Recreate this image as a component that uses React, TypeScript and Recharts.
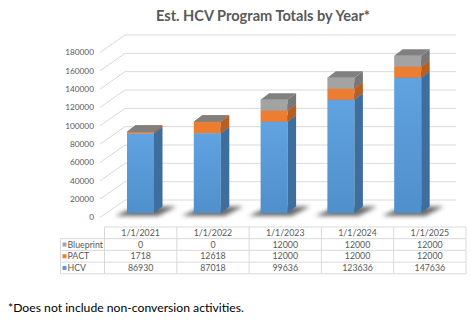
import React from 'react';
import { BarChart, Bar, XAxis, YAxis, CartesianGrid } from 'recharts';

const categories = ['1/1/2021', '1/1/2022', '1/1/2023', '1/1/2024', '1/1/2025'];
const hcvValues = [86930, 87018, 99636, 123636, 147636];
const pactValues = [1718, 12618, 12000, 12000, 12000];
const blueprintValues = [0, 0, 12000, 12000, 12000];
const yTicks = [0, 20000, 40000, 60000, 80000, 100000, 120000, 140000, 160000, 180000];

const seriesInfo = [
  { key: 'Blueprint', values: blueprintValues, color: '#A5A5A5' },
  { key: 'PACT', values: pactValues, color: '#ED7D31' },
  { key: 'HCV', values: hcvValues, color: '#5B9BD5' },
];

const data = categories.map((c, i) => ({
  cat: c,
  HCV: hcvValues[i],
  PACT: pactValues[i],
  Blueprint: blueprintValues[i],
}));

const DX = 8.5;
const DY = 6.5;
const FONT = 'Lato, "Liberation Sans", sans-serif';

const faceColors: Record<string, { front: string; side: string; top: string }> = {
  HCV: { front: 'url(#blueFront)', side: '#3D6E9E', top: '#4A7FB3' },
  PACT: { front: '#ED7D31', side: '#B85E20', top: '#C8691F' },
  Blueprint: { front: '#A3A3A3', side: '#777777', top: '#808080' },
};

function make3DShape(name: string, withShadow: boolean) {
  return (props: any) => {
    const { x, y, width, height, index } = props;
    if (x == null || y == null) return <g />;
    const h = Math.max(0, height || 0);
    const c = faceColors[name];
    const bottom = y + h;
    return (
      <g>
        {withShadow && (
          <g>
            <defs>
              <filter id={`blur${index}`} x="-50%" y="-50%" width="200%" height="200%">
                <feGaussianBlur stdDeviation="2.2" />
              </filter>
            </defs>
            <polygon
              points={`${x - 12},${bottom + 3} ${x + width + 4},${bottom + 3} ${x + width + DX + 14},${bottom - DY} ${x + DX},${bottom - DY}`}
              fill="#3a3a3a"
              opacity={0.75}
              filter={`url(#blur${index})`}
            />
          </g>
        )}
        <rect x={x} y={y} width={width} height={h} fill={c.front} />
        <polygon
          points={`${x + width},${y} ${x + width + DX},${y - DY} ${x + width + DX},${bottom - DY} ${x + width},${bottom}`}
          fill={c.side}
        />
        <polygon
          points={`${x},${y} ${x + DX},${y - DY} ${x + width + DX},${y - DY} ${x + width},${y}`}
          fill={c.top}
        />
      </g>
    );
  };
}

const gridLine = (props: any) => {
  const { x1, x2, y1, key } = props;
  return (
    <polyline
      key={key}
      points={`${x1 - 7},${y1 + 4.5} ${x1 + 18},${y1 - 13} ${x2 + 15},${y1 - 13}`}
      fill="none"
      stroke="#D9D9D9"
      strokeWidth={1}
    />
  );
};

const YTick = (props: any) => {
  const { x, y, payload } = props;
  return (
    <text x={x - 13} y={y + 4.5} dy="0.35em" textAnchor="end" fontSize={8.3} fill="#595959" fontFamily={FONT}>
      {payload.value}
    </text>
  );
};

const TABLE_LEFT = 60.5;
const LEGEND_RIGHT = 104.5;
const COL_W = 72.3;
const TABLE_TOP = 227;
const ROW_H = 11.7;

function DataTable() {
  const right = LEGEND_RIGHT + COL_W * categories.length;
  const bottom = TABLE_TOP + ROW_H * 4;
  const lines: React.ReactNode[] = [];
  lines.push(<line key="h0" x1={LEGEND_RIGHT} x2={right} y1={TABLE_TOP} y2={TABLE_TOP} />);
  for (let k = 1; k <= 4; k++) {
    const yy = TABLE_TOP + ROW_H * k;
    lines.push(<line key={`h${k}`} x1={TABLE_LEFT} x2={right} y1={yy} y2={yy} />);
  }
  lines.push(<line key="v0" x1={TABLE_LEFT} x2={TABLE_LEFT} y1={TABLE_TOP + ROW_H} y2={bottom} />);
  for (let j = 0; j <= categories.length; j++) {
    const xx = LEGEND_RIGHT + COL_W * j;
    lines.push(<line key={`v${j + 1}`} x1={xx} x2={xx} y1={TABLE_TOP} y2={bottom} />);
  }
  return (
    <g fontFamily={FONT} fontSize={8.8} fill="#595959">
      <g stroke="#D9D9D9" strokeWidth={1}>{lines}</g>
      {categories.map((c, j) => (
        <text key={c} x={LEGEND_RIGHT + COL_W * (j + 0.5)} y={TABLE_TOP + ROW_H / 2} dy="0.35em" textAnchor="middle">
          {c}
        </text>
      ))}
      {seriesInfo.map((s, r) => {
        const cy = TABLE_TOP + ROW_H * (r + 1.5);
        return (
          <g key={s.key}>
            <rect x={TABLE_LEFT + 2} y={cy - 2} width={4} height={4} fill={s.color} />
            <text x={TABLE_LEFT + 7} y={cy} dy="0.35em">{s.key}</text>
            {s.values.map((v, j) => (
              <text key={j} x={LEGEND_RIGHT + COL_W * (j + 0.5)} y={cy} dy="0.35em" textAnchor="middle">
                {v}
              </text>
            ))}
          </g>
        );
      })}
    </g>
  );
}

export default function App() {
  return (
    <div style={{ position: 'absolute', left: 0, top: 0, width: 474, height: 323, background: '#fff' }}>
      <svg width={0} height={0} style={{ position: 'absolute' }}>
        <defs>
          <linearGradient id="blueFront" x1="0" y1="0" x2="0" y2="1">
            <stop offset="0%" stopColor="#60A3E0" />
            <stop offset="100%" stopColor="#4F8FCC" />
          </linearGradient>
        </defs>
      </svg>
      <BarChart
        width={474}
        height={323}
        data={data}
        margin={{ top: 48, right: 33, bottom: 110, left: 0 }}
      >
        <CartesianGrid horizontal={gridLine} vertical={false} />
        <XAxis dataKey="cat" hide />
        <YAxis
          width={107}
          domain={[0, 180000]}
          ticks={yTicks}
          axisLine={false}
          tickLine={false}
          tickSize={0}
          tickMargin={0}
          tick={YTick}
          interval={0}
        />
        <Bar dataKey="HCV" stackId="a" barSize={27} fill="#5B9BD5" isAnimationActive={false} shape={make3DShape('HCV', true)} />
        <Bar dataKey="PACT" stackId="a" barSize={27} fill="#ED7D31" isAnimationActive={false} shape={make3DShape('PACT', false)} />
        <Bar dataKey="Blueprint" stackId="a" barSize={27} fill="#A5A5A5" isAnimationActive={false} shape={make3DShape('Blueprint', false)} />
      </BarChart>
      <svg width={474} height={323} style={{ position: 'absolute', left: 0, top: 0, pointerEvents: 'none' }}>
        <text x={263} y={20.5} textAnchor="middle" fontFamily={FONT} fontWeight="bold" fontSize={14.6} fill="#595959">
          Est. HCV Program Totals by Year*
        </text>
        <DataTable />
        <text x={8} y={312} fontFamily={FONT} fontSize={12.2} fill="#000">
          *Does not include non-conversion activities.
        </text>
      </svg>
    </div>
  );
}
